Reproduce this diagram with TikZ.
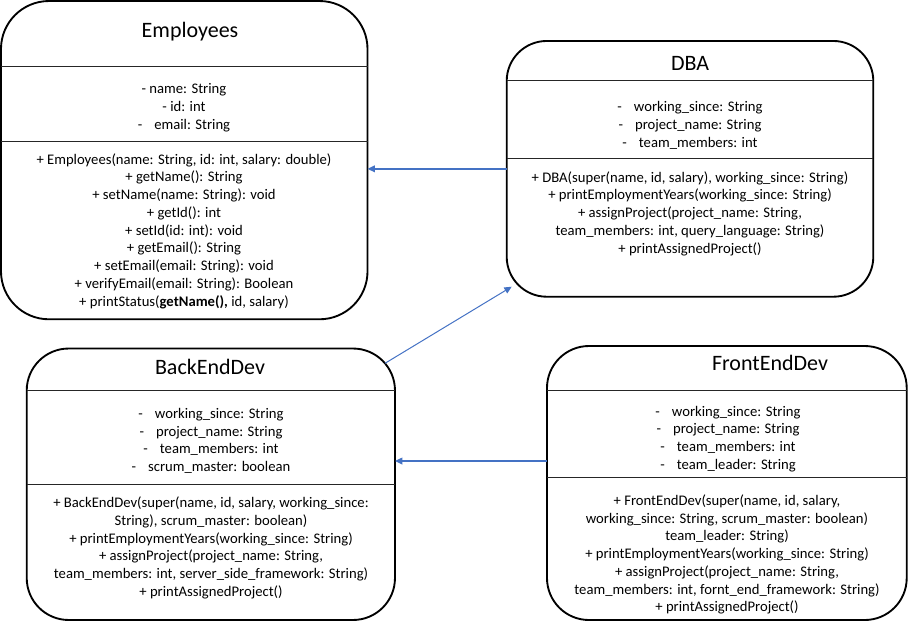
\documentclass[tikz,border=0pt]{standalone}
\usepackage{fontspec}
\setmainfont{Carlito}
\usetikzlibrary{arrows.meta}
\definecolor{arrowblue}{HTML}{4472C4}
\newcommand\umlbodyfont{\fontsize{11}{13.3}\selectfont}
\newcommand\umltitlefont{\fontsize{16.5}{19}\selectfont}
\newcommand\dsh{-\hspace{9pt}}
\tikzset{
  umlbox/.style={draw=black, line width=1.4pt, rectangle, inner sep=0pt, outer sep=0pt},
  sepline/.style={draw=black!85, line width=0.75pt},
  umltitle/.style={font=\umltitlefont, inner sep=0pt},
  umlbody/.style={font=\umlbodyfont, inner sep=0pt, align=center},
  inherit/.style={draw=arrowblue, line width=1pt, -{Triangle[length=5.5pt,width=5pt]}},
}
\begin{document}
\begin{tikzpicture}[x=0.75pt,y=-0.75pt]
\useasboundingbox (0,0) rectangle (909,625);

% Employees
\node[umlbox, rounded corners=36pt, minimum width=274.9pt, minimum height=238.7pt] (emp) at (184.25,160.15) {};
\draw[sepline] (emp.west |- 0,66.7) -- (emp.east |- 0,66.7);
\draw[sepline] (emp.west |- 0,141) -- (emp.east |- 0,141);
\node[umltitle] (empT) at (190,32) {Employees};
\node[umlbody] (empA) at (184,107.5) {- name: String\\- id: int\\\dsh email: String};
\node[umlbody] (empM) at (184,231) {+ Employees(name: String, id: int, salary: double)\\
+ getName(): String\\
+ setName(name: String): void\\
+ getId(): int\\
+ setId(id: int): void\\
+ getEmail(): String\\
+ setEmail(email: String): void\\
+ verifyEmail(email: String): Boolean\\
+ printStatus(\textbf{getName(),} id, salary)};

% DBA
\node[umlbox, rounded corners=30pt, minimum width=274.95pt, minimum height=191.8pt] (dba) at (690,168.85) {};
\draw[sepline] (dba.west |- 0,80.7) -- (dba.east |- 0,80.7);
\draw[sepline] (dba.west |- 0,158) -- (dba.east |- 0,158);
\node[umltitle] (dbaT) at (690,63) {DBA};
\node[umlbody] (dbaA) at (690,125.5) {\dsh working\_since: String\\\dsh project\_name: String\\\dsh team\_members: int};
\node[umlbody] (dbaM) at (690,213.5) {+ DBA(super(name, id, salary), working\_since: String)\\
+ printEmploymentYears(working\_since: String)\\
+ assignProject(project\_name: String,\\
team\_members: int, query\_language: String)\\
+ printAssignedProject()};

% BackEndDev
\node[umlbox, rounded corners=31.5pt, minimum width=276.2pt, minimum height=203.6pt] (back) at (210.85,484.25) {};
\draw[sepline] (back.west |- 0,390.5) -- (back.east |- 0,390.5);
\draw[sepline] (back.west |- 0,484.3) -- (back.east |- 0,484.3);
\node[umltitle] (backT) at (210,367) {BackEndDev};
\node[umlbody] (backA) at (211,441) {\dsh working\_since: String\\\dsh project\_name: String\\\dsh team\_members: int\\\dsh scrum\_master: boolean};
\node[umlbody] (backM) at (211,548) {+ BackEndDev(super(name, id, salary, working\_since:\\
String), scrum\_master: boolean)\\
+ printEmploymentYears(working\_since: String)\\
+ assignProject(project\_name: String,\\
team\_members: int, server\_side\_framework: String)\\
+ printAssignedProject()};

% FrontEndDev
\node[umlbox, rounded corners=31.5pt, minimum width=269.8pt, minimum height=205.5pt] (front) at (726.85,483) {};
\draw[sepline] (front.west |- 0,390.7) -- (front.east |- 0,390.7);
\draw[sepline] (front.west |- 0,477) -- (front.east |- 0,477);
\node[umltitle] (frontT) at (770,363) {FrontEndDev};
\node[umlbody] (frontA) at (728,439) {\dsh working\_since: String\\\dsh project\_name: String\\\dsh team\_members: int\\\dsh team\_leader: String};
\node[umlbody] (frontM) at (727,554.5) {+ FrontEndDev(super(name, id, salary,\\
working\_since: String, scrum\_master: boolean)\\
team\_leader: String)\\
+ printEmploymentYears(working\_since: String)\\
+ assignProject(project\_name: String,\\
team\_members: int, fornt\_end\_framework: String)\\
+ printAssignedProject()};

% connectors
\draw[inherit] (dba.west) -- (dba.west -| emp.east);
\coordinate (feL) at ([yshift=16.5pt]front.west);
\draw[inherit] (feL) -- (feL -| back.east);
\coordinate (bdS) at (385,363.3);
\coordinate (bdE) at (511.7,286.7);
\draw[inherit, line width=0.75pt] (bdS) -- (bdE);
\end{tikzpicture}
\end{document}
